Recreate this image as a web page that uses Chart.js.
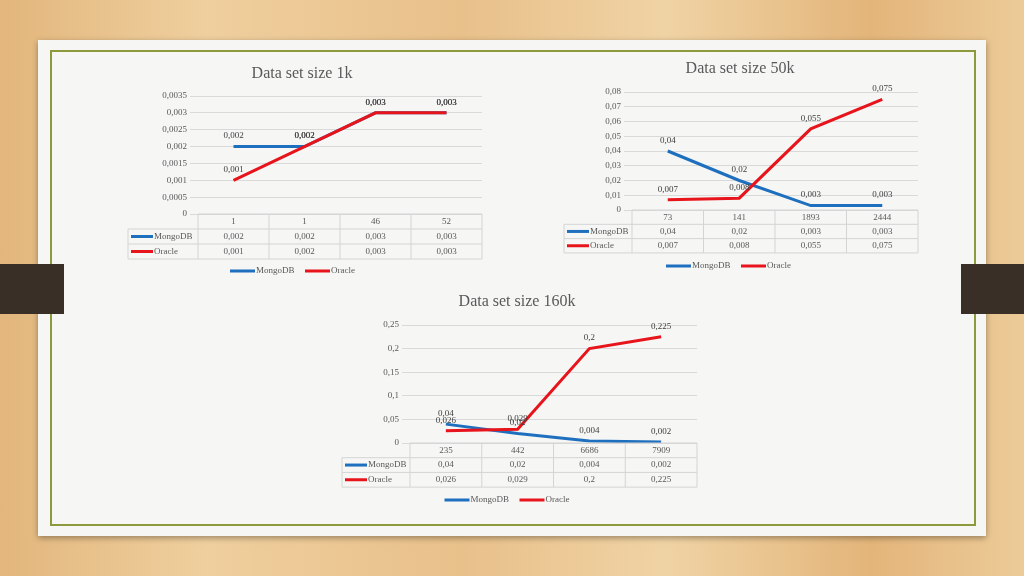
<!DOCTYPE html>
<html><head><meta charset="utf-8">
<script src="https://cdn.jsdelivr.net/npm/chart.js@4"></script>
<style>
body{margin:0;width:1024px;height:576px;overflow:hidden;position:relative;
background:linear-gradient(90deg,#e2b67c 0%,#efcf9e 20%,#e8c08a 45%,#f0d3a4 65%,#e3b57a 85%,#eccb98 100%);}
#slide{position:absolute;left:38px;top:40px;width:948px;height:496px;background:#f6f6f5;box-shadow:0 2px 6px rgba(0,0,0,.35);}
#frame{position:absolute;left:50px;top:50px;width:922px;height:472px;border:2px solid #8c9a3c;}
.strap{position:absolute;top:264px;height:50px;background:#3a2f27;}
canvas{position:absolute;}
</style></head><body>
<div id="slide"></div><div id="frame"></div>
<div class="strap" style="left:0;width:64px"></div>
<div class="strap" style="left:961px;width:63px"></div>
<canvas id="c1"></canvas><canvas id="c2"></canvas><canvas id="c3"></canvas>
<script>
const $ = id => document.getElementById(id);
const serif = '"Liberation Serif", "DejaVu Serif", serif';
const fmt = v => String(v).replace('.', ',');

// Data set size 1k
const labels1k = ['1', '1', '46', '52'];
const mongo1k = [0.002, 0.002, 0.003, 0.003];
const oracle1k = [0.001, 0.002, 0.003, 0.003];
// Data set size 50k
const labels50k = ['73', '141', '1893', '2444'];
const mongo50k = [0.04, 0.02, 0.003, 0.003];
const oracle50k = [0.007, 0.008, 0.055, 0.075];
// Data set size 160k
const labels160k = ['235', '442', '6686', '7909'];
const mongo160k = [0.04, 0.02, 0.004, 0.002];
const oracle160k = [0.026, 0.029, 0.2, 0.225];

const BLUE = '#1f6fbf', RED = '#e8141b';

const tablePlugin = {
    id: 'tbl',
    afterDraw(chart) {
        const o = chart.options.plugins.tbl, c = chart.ctx, a = chart.chartArea;
        const n = chart.data.labels.length, w = (a.right - a.left) / n, rh = o.rowH;
        c.save();
        // title
        c.fillStyle = '#595959'; c.font = '16px ' + serif; c.textAlign = 'center'; c.textBaseline = 'middle';
        c.fillText(o.title, o.titleX, o.titleY);
        // data labels
        c.font = '9px ' + serif; c.fillStyle = '#404040'; c.textBaseline = 'bottom';
        chart.data.datasets.forEach((ds, di) => {
            chart.getDatasetMeta(di).data.forEach((p, i) => c.fillText(fmt(ds.data[i]), p.x, p.y - 6));
        });
        // table
        c.strokeStyle = '#d4d4d4'; c.lineWidth = 1;
        const top = a.bottom, L = o.tableLeft;
        c.beginPath();
        c.moveTo(a.left, top); c.lineTo(a.right, top);
        for (let r = 1; r <= 3; r++) { c.moveTo(L, top + r * rh); c.lineTo(a.right, top + r * rh); }
        c.moveTo(L, top + rh); c.lineTo(L, top + 3 * rh);
        for (let i = 0; i <= n; i++) { c.moveTo(a.left + i * w, top); c.lineTo(a.left + i * w, top + 3 * rh); }
        c.stroke();
        c.textBaseline = 'middle'; c.fillStyle = '#595959';
        chart.data.labels.forEach((l, i) => c.fillText(l, a.left + (i + .5) * w, top + rh / 2));
        chart.data.datasets.forEach((ds, di) => {
            const y = top + rh * (1.5 + di);
            c.strokeStyle = ds.borderColor; c.lineWidth = 3;
            c.beginPath(); c.moveTo(L + 3, y); c.lineTo(L + 25, y); c.stroke();
            c.textAlign = 'left'; c.fillText(ds.label, L + 26, y);
            c.textAlign = 'center';
            ds.data.forEach((v, i) => c.fillText(fmt(v), a.left + (i + .5) * w, y));
        });
        // legend
        const ly = o.legendY, cx = (L + a.right) / 2;
        chart.data.datasets.forEach((ds, di) => {
            const x0 = cx - 75 + di * 75;
            c.strokeStyle = ds.borderColor; c.lineWidth = 3;
            c.beginPath(); c.moveTo(x0, ly); c.lineTo(x0 + 25, ly); c.stroke();
            c.textAlign = 'left'; c.fillText(ds.label, x0 + 26, ly);
        });
        c.restore();
    }
};

function makeChart(id, box, area, title, labels, mongo, oracle, yMax, yStep) {
    const cv = $(id);
    Object.assign(cv.style, { left: box[0] + 'px', top: box[1] + 'px', width: box[2] + 'px', height: box[3] + 'px' });
    return new Chart(cv, {
        type: 'line',
        data: { labels, datasets: [
            { label: 'MongoDB', data: mongo, borderColor: BLUE, backgroundColor: BLUE, order: 1 },
            { label: 'Oracle', data: oracle, borderColor: RED, backgroundColor: RED, order: 0 }
        ] },
        options: {
            responsive: false, animation: false,
            elements: { line: { borderWidth: 3, tension: 0 }, point: { radius: 0 } },
            layout: { padding: { top: area[1] - box[1], bottom: box[1] + box[3] - area[3], right: box[0] + box[2] - area[2], left: 0 } },
            scales: {
                x: { offset: true, grid: { display: false }, ticks: { display: false }, border: { display: false },
                     afterFit: s => { s.height = 0; } },
                y: { min: 0, max: yMax, border: { display: false },
                     afterFit: s => { s.width = area[0] - box[0]; },
                     grid: { color: '#d9d9d9' },
                     ticks: { stepSize: yStep, autoSkip: false, maxTicksLimit: 20, color: '#595959', font: { family: serif, size: 9 }, callback: v => fmt(+v.toFixed(5)) } }
            },
            plugins: { legend: { display: false }, tooltip: { enabled: false },
                tbl: { title, titleX: area[4] - box[0], titleY: area[5] - box[1], tableLeft: area[6] - box[0], rowH: area[7], legendY: area[8] - box[1] } }
        },
        plugins: [tablePlugin]
    });
}
// area: [plotLeft, plotTop, plotRight, plotBottom, titleX, titleY, tableLeft, rowH, legendY]
makeChart('c1', [120, 55, 380, 230], [198, 96, 482, 214, 302, 74, 128, 15, 271], 'Data set size 1k', labels1k, mongo1k, oracle1k, 0.0035, 0.0005);
makeChart('c2', [556, 52, 380, 230], [632, 92, 918, 210, 740, 69, 564, 14.3, 266], 'Data set size 50k', labels50k, mongo50k, oracle50k, 0.08, 0.01);
makeChart('c3', [334, 288, 380, 228], [410, 325, 697, 443, 517, 302, 342, 14.7, 500], 'Data set size 160k', labels160k, mongo160k, oracle160k, 0.25, 0.05);
</script></body></html>
